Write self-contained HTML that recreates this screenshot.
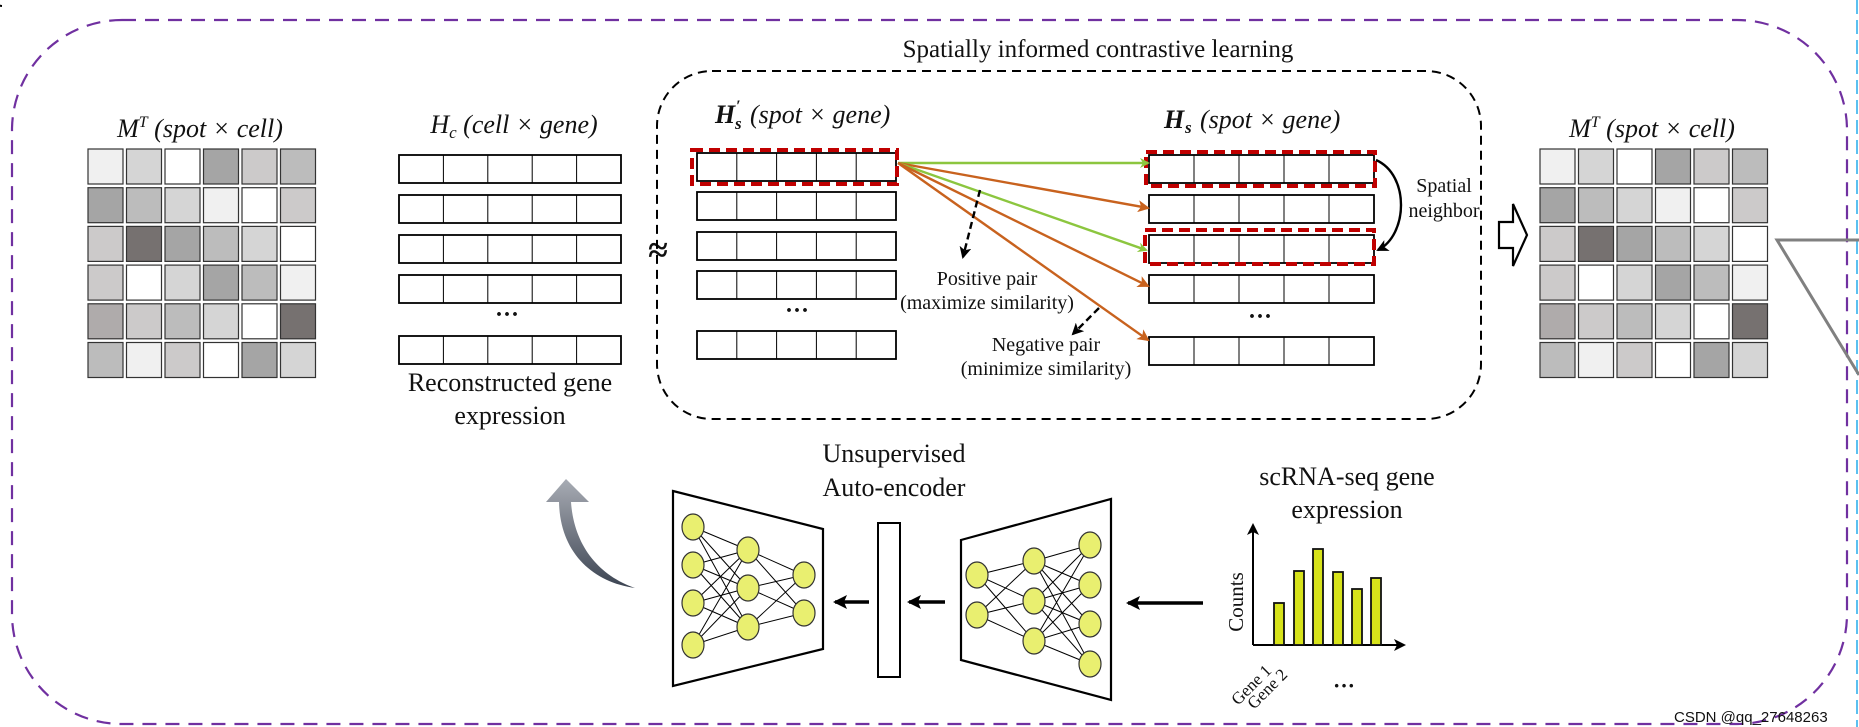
<!DOCTYPE html>
<html><head><meta charset="utf-8"><style>
html,body{margin:0;padding:0;background:#fff}
svg{display:block}
text{font-family:"Liberation Serif",serif;fill:#111}
.it{font-style:italic}
</style></head><body>
<svg width="1859" height="727" viewBox="0 0 1859 727" xmlns="http://www.w3.org/2000/svg">
<defs>
<marker id="ag" markerWidth="10" markerHeight="10" refX="8" refY="5" orient="auto" markerUnits="userSpaceOnUse"><path d="M0,0 L10,5 L0,10 L3,5 Z" fill="#8cc63f"/></marker>
<marker id="ao" markerWidth="12" markerHeight="12" refX="10" refY="6" orient="auto" markerUnits="userSpaceOnUse"><path d="M0,0 L12,6 L0,12 L3,6 Z" fill="#c8621e"/></marker>
<marker id="ak" markerWidth="12" markerHeight="12" refX="10" refY="6" orient="auto" markerUnits="userSpaceOnUse"><path d="M0,0 L12,6 L0,12 L3,6 Z" fill="#000"/></marker>
<marker id="ab" markerWidth="14" markerHeight="14" refX="12" refY="7" orient="auto" markerUnits="userSpaceOnUse"><path d="M0,0 L14,7 L0,14 L3,7 Z" fill="#000"/></marker>
<linearGradient id="gg" x1="0" y1="1" x2="0" y2="0"><stop offset="0" stop-color="#3c4452"/><stop offset="1" stop-color="#a8acb4"/></linearGradient>
<g id="rowA"><rect x="0" y="0" width="222" height="28" fill="#fff" stroke="#000" stroke-width="1.8"/><path d="M44.4,0V28M88.8,0V28M133.2,0V28M177.6,0V28" stroke="#000" stroke-width="1"/></g>
<g id="rowB"><rect x="0" y="0" width="199" height="28" fill="#fff" stroke="#000" stroke-width="1.8"/><path d="M39.8,0V28M79.6,0V28M119.4,0V28M159.2,0V28" stroke="#000" stroke-width="1"/></g>
<g id="rowC"><rect x="0" y="0" width="225" height="28" fill="#fff" stroke="#000" stroke-width="1.8"/><path d="M45,0V28M90,0V28M135,0V28M180,0V28" stroke="#000" stroke-width="1"/></g>
<g id="mat" stroke="#333" stroke-width="1.2">
<rect x="0" y="0" width="35" height="35" fill="#f0f0f0"/><rect x="38.5" y="0" width="35" height="35" fill="#d5d5d5"/><rect x="77" y="0" width="35" height="35" fill="#fff"/><rect x="115.5" y="0" width="35" height="35" fill="#a5a5a5"/><rect x="154" y="0" width="35" height="35" fill="#cccaca"/><rect x="192.5" y="0" width="35" height="35" fill="#bcbcbc"/>
<rect x="0" y="38.7" width="35" height="35" fill="#a5a5a5"/><rect x="38.5" y="38.7" width="35" height="35" fill="#bcbcbc"/><rect x="77" y="38.7" width="35" height="35" fill="#d5d5d5"/><rect x="115.5" y="38.7" width="35" height="35" fill="#f0f0f0"/><rect x="154" y="38.7" width="35" height="35" fill="#fff"/><rect x="192.5" y="38.7" width="35" height="35" fill="#cccaca"/>
<rect x="0" y="77.4" width="35" height="35" fill="#cccaca"/><rect x="38.5" y="77.4" width="35" height="35" fill="#767170"/><rect x="77" y="77.4" width="35" height="35" fill="#a5a5a5"/><rect x="115.5" y="77.4" width="35" height="35" fill="#bcbcbc"/><rect x="154" y="77.4" width="35" height="35" fill="#d5d5d5"/><rect x="192.5" y="77.4" width="35" height="35" fill="#fff"/>
<rect x="0" y="116.1" width="35" height="35" fill="#cccaca"/><rect x="38.5" y="116.1" width="35" height="35" fill="#fff"/><rect x="77" y="116.1" width="35" height="35" fill="#d5d5d5"/><rect x="115.5" y="116.1" width="35" height="35" fill="#a5a5a5"/><rect x="154" y="116.1" width="35" height="35" fill="#bcbcbc"/><rect x="192.5" y="116.1" width="35" height="35" fill="#f0f0f0"/>
<rect x="0" y="154.8" width="35" height="35" fill="#afabab"/><rect x="38.5" y="154.8" width="35" height="35" fill="#cccaca"/><rect x="77" y="154.8" width="35" height="35" fill="#bcbcbc"/><rect x="115.5" y="154.8" width="35" height="35" fill="#d5d5d5"/><rect x="154" y="154.8" width="35" height="35" fill="#fff"/><rect x="192.5" y="154.8" width="35" height="35" fill="#767170"/>
<rect x="0" y="193.5" width="35" height="35" fill="#bcbcbc"/><rect x="38.5" y="193.5" width="35" height="35" fill="#f0f0f0"/><rect x="77" y="193.5" width="35" height="35" fill="#cccaca"/><rect x="115.5" y="193.5" width="35" height="35" fill="#fff"/><rect x="154" y="193.5" width="35" height="35" fill="#a5a5a5"/><rect x="192.5" y="193.5" width="35" height="35" fill="#d5d5d5"/>
</g>
</defs>

<path d="M14,4 A8,8 0 1 0 6,14" fill="none" stroke="#000" stroke-width="2" transform="translate(-4,-8)"/>

<rect x="12" y="20" width="1835" height="704" rx="110" ry="110" fill="none" stroke="#7030a0" stroke-width="2.2" stroke-dasharray="14,9"/>
<line x1="1857" y1="0" x2="1857" y2="727" stroke="#5bc0f0" stroke-width="2" stroke-dasharray="14,6"/>

<use href="#mat" x="88" y="149"/>
<use href="#mat" x="1540" y="149"/>
<text x="200" y="137" font-size="26" text-anchor="middle" class="it">M<tspan font-size="16" dy="-10">T</tspan><tspan dy="10"> (spot × cell)</tspan></text>
<text x="1652" y="137" font-size="26" text-anchor="middle" class="it">M<tspan font-size="16" dy="-10">T</tspan><tspan dy="10"> (spot × cell)</tspan></text>

<use href="#rowA" x="399" y="155"/><use href="#rowA" x="399" y="195"/><use href="#rowA" x="399" y="235"/><use href="#rowA" x="399" y="275"/><use href="#rowA" x="399" y="336"/>
<text x="507" y="322" font-size="24" text-anchor="middle" font-weight="bold">···</text>
<text x="514" y="133" font-size="26" text-anchor="middle" class="it">H<tspan font-size="17" dy="5">c</tspan><tspan dy="-5"> (cell × gene)</tspan></text>
<text x="510" y="391" font-size="26" text-anchor="middle">Reconstructed gene</text>
<text x="510" y="424" font-size="26" text-anchor="middle">expression</text>
<text x="658" y="262" font-size="36" text-anchor="middle" font-weight="bold">≈</text>

<rect x="657" y="71" width="824" height="348" rx="55" ry="55" fill="none" stroke="#000" stroke-width="2" stroke-dasharray="9,6"/>
<text x="1098" y="57" font-size="25" text-anchor="middle">Spatially informed contrastive learning</text>

<use href="#rowB" x="697" y="153"/><use href="#rowB" x="697" y="192"/><use href="#rowB" x="697" y="232"/><use href="#rowB" x="697" y="271"/><use href="#rowB" x="697" y="331"/>
<text x="797" y="318" font-size="24" text-anchor="middle" font-weight="bold">···</text>
<rect x="692" y="150" width="205" height="34" fill="none" stroke="#c00000" stroke-width="4" stroke-dasharray="11,6"/>
<text x="715" y="123" font-size="26" font-weight="bold" font-style="italic">H</text>
<text x="736" y="111" font-size="16" font-weight="bold" font-style="italic">′</text>
<text x="735" y="129" font-size="17" font-weight="bold" font-style="italic">s</text>
<text x="750" y="123" font-size="26" font-style="italic">(spot  × gene)</text>

<use href="#rowC" x="1149" y="155"/><use href="#rowC" x="1149" y="195"/><use href="#rowC" x="1149" y="235"/><use href="#rowC" x="1149" y="275"/><use href="#rowC" x="1149" y="337"/>
<text x="1260" y="324" font-size="24" text-anchor="middle" font-weight="bold">···</text>
<rect x="1146" y="152" width="229" height="34" fill="none" stroke="#c00000" stroke-width="4" stroke-dasharray="11,6"/>
<rect x="1145" y="230" width="229" height="34" fill="none" stroke="#c00000" stroke-width="4" stroke-dasharray="11,6"/>
<text x="1164" y="128" font-size="26" font-weight="bold" font-style="italic">H</text>
<text x="1185" y="133" font-size="17" font-weight="bold" font-style="italic">s</text>
<text x="1200" y="128" font-size="26" font-style="italic">(spot  × gene)</text>

<g stroke-width="2.4" fill="none">
<line x1="898" y1="163" x2="1148" y2="163" stroke="#8cc63f" marker-end="url(#ag)"/>
<line x1="898" y1="163" x2="1148" y2="208" stroke="#c8621e" marker-end="url(#ao)"/>
<line x1="898" y1="163" x2="1146" y2="250" stroke="#8cc63f" marker-end="url(#ag)"/>
<line x1="898" y1="163" x2="1148" y2="286" stroke="#c8621e" marker-end="url(#ao)"/>
<line x1="898" y1="163" x2="1148" y2="340" stroke="#c8621e" marker-end="url(#ao)"/>
<line x1="980" y1="190" x2="963" y2="257" stroke="#000" stroke-dasharray="7,4" marker-end="url(#ak)"/>
<line x1="1099" y1="308" x2="1073" y2="334" stroke="#000" stroke-dasharray="7,4" marker-end="url(#ak)"/>
<path d="M1376,160 C1410,175 1408,235 1378,250" stroke="#000" marker-end="url(#ak)"/>
</g>
<text x="987" y="285" font-size="20" text-anchor="middle">Positive pair</text>
<text x="987" y="309" font-size="20" text-anchor="middle">(maximize similarity)</text>
<text x="1046" y="351" font-size="20" text-anchor="middle">Negative pair</text>
<text x="1046" y="375" font-size="20" text-anchor="middle">(minimize similarity)</text>
<text x="1444" y="192" font-size="20" text-anchor="middle">Spatial</text>
<text x="1444" y="217" font-size="20" text-anchor="middle">neighbor</text>

<path d="M1499,222 L1513,222 L1513,204 L1527,235 L1513,266 L1513,248 L1499,248 Z" fill="#fff" stroke="#000" stroke-width="2.2"/>

<polyline points="1859,240 1777,240 1859,375" fill="none" stroke="#808080" stroke-width="3"/>

<text x="894" y="462" font-size="26" text-anchor="middle">Unsupervised</text>
<text x="894" y="496" font-size="26" text-anchor="middle">Auto-encoder</text>
<path d="M635,588 C598,575 574,545 571,502 L589,502 L566,479 L546,502 L559,502 C560,552 592,582 635,588 Z" fill="url(#gg)"/>

<polygon points="673,491 823,529 823,649 673,686" fill="#fff" stroke="#000" stroke-width="2.2"/>
<g stroke="#000" stroke-width="1">
<path d="M693,527 L748,550 M693,527 L748,588 M693,527 L748,627 M693,565 L748,550 M693,565 L748,588 M693,565 L748,627 M693,603 L748,550 M693,603 L748,588 M693,603 L748,627 M693,645 L748,550 M693,645 L748,588 M693,645 L748,627 M748,550 L804,575 M748,550 L804,613 M748,588 L804,575 M748,588 L804,613 M748,627 L804,575 M748,627 L804,613"/>
</g>
<g fill="#e9ef70" stroke="#333" stroke-width="1.2">
<ellipse cx="693" cy="527" rx="11" ry="13"/><ellipse cx="693" cy="565" rx="11" ry="13"/><ellipse cx="693" cy="603" rx="11" ry="13"/><ellipse cx="693" cy="645" rx="11" ry="13"/>
<ellipse cx="748" cy="550" rx="11" ry="13"/><ellipse cx="748" cy="588" rx="11" ry="13"/><ellipse cx="748" cy="627" rx="11" ry="13"/>
<ellipse cx="804" cy="575" rx="11" ry="13"/><ellipse cx="804" cy="613" rx="11" ry="13"/>
</g>
<line x1="869" y1="602" x2="835" y2="602" stroke="#000" stroke-width="3.5" marker-end="url(#ab)"/>
<rect x="878" y="523" width="22" height="154" fill="#fff" stroke="#000" stroke-width="2"/>
<line x1="945" y1="602" x2="909" y2="602" stroke="#000" stroke-width="3.5" marker-end="url(#ab)"/>

<polygon points="961,540 1111,499 1111,700 961,660" fill="#fff" stroke="#000" stroke-width="2.2"/>
<g stroke="#000" stroke-width="1">
<path d="M977,575 L1034,561 M977,575 L1034,601 M977,575 L1034,641 M977,615 L1034,561 M977,615 L1034,601 M977,615 L1034,641 M1034,561 L1090,545 M1034,561 L1090,585 M1034,561 L1090,624 M1034,561 L1090,664 M1034,601 L1090,545 M1034,601 L1090,585 M1034,601 L1090,624 M1034,601 L1090,664 M1034,641 L1090,545 M1034,641 L1090,585 M1034,641 L1090,624 M1034,641 L1090,664"/>
</g>
<g fill="#e9ef70" stroke="#333" stroke-width="1.2">
<ellipse cx="977" cy="575" rx="11" ry="13"/><ellipse cx="977" cy="615" rx="11" ry="13"/>
<ellipse cx="1034" cy="561" rx="11" ry="13"/><ellipse cx="1034" cy="601" rx="11" ry="13"/><ellipse cx="1034" cy="641" rx="11" ry="13"/>
<ellipse cx="1090" cy="545" rx="11" ry="13"/><ellipse cx="1090" cy="585" rx="11" ry="13"/><ellipse cx="1090" cy="624" rx="11" ry="13"/><ellipse cx="1090" cy="664" rx="11" ry="13"/>
</g>
<line x1="1203" y1="603" x2="1128" y2="603" stroke="#000" stroke-width="3.5" marker-end="url(#ab)"/>

<text x="1347" y="485" font-size="26" text-anchor="middle">scRNA-seq gene</text>
<text x="1347" y="518" font-size="26" text-anchor="middle">expression</text>
<line x1="1253" y1="645" x2="1253" y2="525" stroke="#000" stroke-width="2" marker-end="url(#ak)"/>
<line x1="1253" y1="645" x2="1404" y2="645" stroke="#000" stroke-width="2" marker-end="url(#ak)"/>
<g fill="#d7e31a" stroke="#111" stroke-width="1.8">
<rect x="1274" y="603" width="10" height="42"/><rect x="1294" y="571" width="10" height="74"/><rect x="1313" y="549" width="10" height="96"/><rect x="1333" y="572" width="10" height="73"/><rect x="1352" y="589" width="10" height="56"/><rect x="1371" y="578" width="10" height="67"/>
</g>
<text x="0" y="0" font-size="21" text-anchor="middle" transform="translate(1243,602) rotate(-90)">Counts</text>
<text x="0" y="0" font-size="17" transform="translate(1238,706) rotate(-45)">Gene 1</text>
<text x="0" y="0" font-size="17" transform="translate(1254,710) rotate(-45)">Gene 2</text>
<text x="1344" y="693" font-size="22" text-anchor="middle" font-weight="bold">···</text>

<text x="1674" y="722" font-size="15" style="font-family:'Liberation Sans',sans-serif" fill="#c8c8c8">CSDN @qq_27648263</text>
</svg>
</body></html>
